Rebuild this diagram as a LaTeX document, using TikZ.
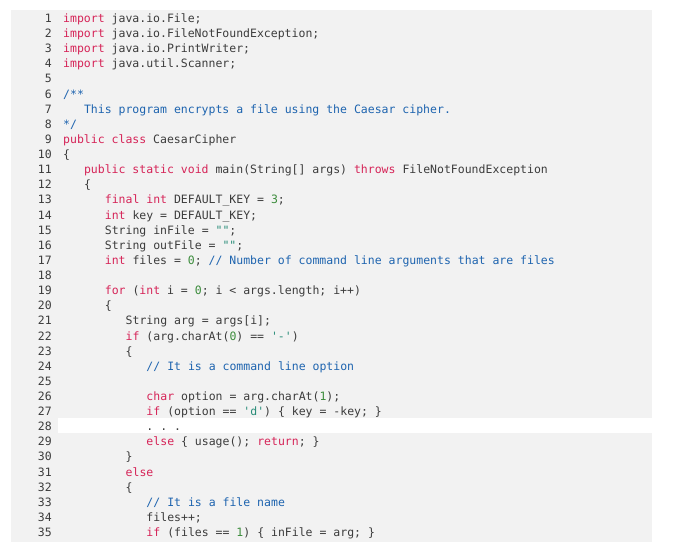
\documentclass[tikz,border=0pt]{standalone}
\usepackage{fontspec}
\setmonofont{DejaVu Sans Mono}
\definecolor{bg}{RGB}{242,242,242}
\definecolor{txt}{RGB}{60,60,60}
\definecolor{kw}{RGB}{214,36,88}
\definecolor{cm}{RGB}{30,100,175}
\definecolor{nm}{RGB}{60,140,60}
\definecolor{st}{RGB}{40,140,120}
\newcommand{\K}[1]{\textcolor{kw}{#1}}
\newcommand{\C}[1]{\textcolor{cm}{#1}}
\newcommand{\N}[1]{\textcolor{nm}{#1}}
\newcommand{\Q}[1]{\textcolor{st}{#1}}
\newcommand{\cw}{6.94}
\newcommand{\lh}{15.12}
\tikzset{x=1pt,y=1pt,
 code/.style={anchor=base west,inner sep=0pt,font=\ttfamily\fontsize{11.5}{13}\selectfont,text=txt},
 lnum/.style={anchor=base east,inner sep=0pt,font=\ttfamily\fontsize{11.5}{13}\selectfont,text=txt}}
\newcommand{\CL}[3]{% line number, indent chars, content
 \node[lnum] (n#1) at (52,{-22.5-(#1-1)*\lh}) {#1};
 \node[code] (l#1) at ({63+#2*\cw},{-22.5-(#1-1)*\lh}) {#3};}
\begin{document}
\begin{tikzpicture}
\useasboundingbox (0,0) rectangle (689,-542);
\fill[bg] (11,-10) rectangle (652,-542);
\fill[white] (58,{-10-27*\lh+0.5}) rectangle (652,{-10-28*\lh+0.5});
\CL{1}{0}{\K{import} java.io.File;}
\CL{2}{0}{\K{import} java.io.FileNotFoundException;}
\CL{3}{0}{\K{import} java.io.PrintWriter;}
\CL{4}{0}{\K{import} java.util.Scanner;}
\CL{5}{0}{}
\CL{6}{0}{\C{/**}}
\CL{7}{3}{\C{This program encrypts a file using the Caesar cipher.}}
\CL{8}{0}{\C{*/}}
\CL{9}{0}{\K{public class} CaesarCipher}
\CL{10}{0}{\{}
\CL{11}{3}{\K{public static void} main(String[] args) \K{throws} FileNotFoundException}
\CL{12}{3}{\{}
\CL{13}{6}{\K{final int} DEFAULT\_KEY = \N{3};}
\CL{14}{6}{\K{int} key = DEFAULT\_KEY;}
\CL{15}{6}{String inFile = \Q{""};}
\CL{16}{6}{String outFile = \Q{""};}
\CL{17}{6}{\K{int} files = \N{0}; \C{// Number of command line arguments that are files}}
\CL{18}{0}{}
\CL{19}{6}{\K{for} (\K{int} i = \N{0}; i < args.length; i++)}
\CL{20}{6}{\{}
\CL{21}{9}{String arg = args[i];}
\CL{22}{9}{\K{if} (arg.charAt(\N{0}) == \Q{'-'})}
\CL{23}{9}{\{}
\CL{24}{12}{\C{// It is a command line option}}
\CL{25}{0}{}
\CL{26}{12}{\K{char} option = arg.charAt(\N{1});}
\CL{27}{12}{\K{if} (option == \Q{'d'}) \{ key = -key; \}}
\CL{28}{12}{. . .}
\CL{29}{12}{\K{else} \{ usage(); \K{return}; \}}
\CL{30}{9}{\}}
\CL{31}{9}{\K{else}}
\CL{32}{9}{\{}
\CL{33}{12}{\C{// It is a file name}}
\CL{34}{12}{files++;}
\CL{35}{12}{\K{if} (files == \N{1}) \{ inFile = arg; \}}
\end{tikzpicture}
\end{document}
